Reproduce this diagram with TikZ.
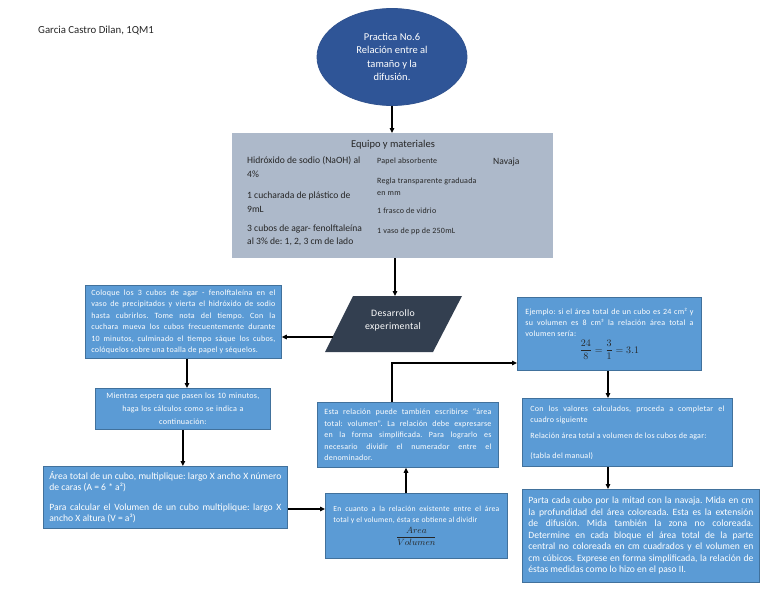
\documentclass[tikz,border=0pt]{standalone}
\usepackage{fontspec}
\setmainfont{Carlito}
\newfontfamily\widefont[LetterSpace=3]{Carlito}
\usetikzlibrary{arrows.meta,calc,shapes.geometric}
\definecolor{navyell}{HTML}{2F5597}
\definecolor{navyedge}{HTML}{2F528F}
\definecolor{eqgray}{HTML}{ADB9CA}
\definecolor{darkpar}{HTML}{333F50}
\definecolor{boxblue}{HTML}{5B9BD5}
\definecolor{boxedge}{HTML}{41719C}
\frenchspacing
\begin{document}
\begin{tikzpicture}[x=1pt,y=-1pt,
  arr/.style={-{Triangle[length=5pt,width=4.5pt]},line width=1.2pt,black},
  bluebox/.style={draw=boxedge,line width=0.8pt,fill=boxblue,text=white,anchor=north west,inner ysep=2pt,align=justify},
  wf/.style={font=\widefont\fontsize{8}{11.4}\selectfont},
  cf/.style={font=\fontsize{9.6}{11.5}\selectfont},
  eqtxt/.style={anchor=west,inner sep=0pt,align=left,text=black!85,font=\fontsize{9.6}{13.5}\selectfont},
  eqsmall/.style={anchor=west,inner sep=0pt,align=left,text=black!85,font=\widefont\fontsize{8}{12.5}\selectfont}
]
\useasboundingbox (0,0) rectangle (768,594);
\fill[white] (0,0) rectangle (768,594);

% title
\node[anchor=west,inner sep=0pt,text=black!85,font=\fontsize{10.8}{12}\selectfont] (title) at (38,30) {Garcia Castro Dilan, 1QM1};

% ellipse
\node[ellipse,fill=navyell,draw=navyedge,line width=0.8pt,minimum width=150pt,minimum height=97pt,inner sep=0pt,text=white,align=center,font=\fontsize{10.5}{13.3}\selectfont] (ell) at (392,57) {Practica No.6\\Relación entre al\\tamaño y la\\difusión.};

% equipo
\node[fill=eqgray,minimum width=321pt,minimum height=125pt,anchor=north west,inner sep=0pt] (eq) at (232,133) {};
\node[inner sep=0pt,text=black!85,font=\fontsize{10.5}{12}\selectfont] (eqt) at (393,145) {Equipo y materiales};
\node[eqtxt] (e1) at (247,167) {Hidróxido de sodio (NaOH) al\\4\%};
\node[eqtxt] (e2) at (247,202) {1 cucharada de plástico de\\9mL};
\node[eqtxt] (e3) at (247,235.5) {3 cubos de agar- fenolftaleína\\al 3\% de: 1, 2, 3 cm de lado};
\node[eqsmall] (m1) at (377,161) {Papel absorbente};
\node[eqsmall] (m2) at (377,186.5) {Regla transparente graduada\\en mm};
\node[eqsmall] (m3) at (377,211) {1 frasco de vidrio};
\node[eqsmall] (m4) at (377,231) {1 vaso de pp de 250mL};
\node[eqtxt] (nav) at (493,162) {Navaja};

% parallelogram
\coordinate (pTL) at (353,296);
\coordinate (pTR) at (462,296);
\coordinate (pBR) at (433,352);
\coordinate (pBL) at (325,352);
\fill[darkpar] (pTL) -- (pTR) -- (pBR) -- (pBL) -- cycle;
\node[text=white,align=center,inner sep=0pt,font=\widefont\fontsize{9.8}{13}\selectfont] (par) at (393,320) {Desarrollo\\experimental};

% blue boxes
\node[bluebox,wf,minimum width=196pt,minimum height=73pt,text width=184pt,inner xsep=6pt] (b1) at (85,285) {Coloque los 3 cubos de agar - fenolftaleína en el\linebreak vaso de precipitados y vierta el hidróxido de sodio\linebreak hasta cubrirlos. Tome nota del tiempo. Con la\linebreak cuchara mueva los cubos frecuentemente durante\linebreak 10 minutos, culminado el tiempo sáque los cubos,\linebreak colóquelos sobre una toalla de papel y séquelos.};

\node[bluebox,align=center,minimum width=175pt,minimum height=41pt,text width=163pt,inner xsep=6pt,font=\widefont\fontsize{8.1}{13}\selectfont] (b2) at (95,388) {Mientras espera que pasen los 10 minutos,\\haga los cálculos como se indica a\\continuación:};

\node[bluebox,font=\fontsize{9.6}{11}\selectfont,minimum width=244pt,minimum height=62pt,text width=232pt,inner xsep=6pt] (b3) at (43,466) {Área total de un cubo, multiplique: largo X ancho X número\linebreak de caras (A = 6 * a²)\\[9pt]Para calcular el Volumen de un cubo multiplique: largo X\linebreak ancho X altura (V = a³)};

\node[bluebox,minimum width=182pt,minimum height=65pt,text width=166pt,inner xsep=8pt,font=\widefont\fontsize{7.7}{11}\selectfont] (b4) at (325,493) {En cuanto a la relación existente entre el área\linebreak total y el volumen, ésta se obtiene al dividir\par\vspace{2pt}{\centering\color{black!85}\fontsize{9.5}{11}\selectfont$\displaystyle\frac{Area}{Volumen}$\par}};

\node[bluebox,wf,minimum width=181pt,minimum height=65pt,text width=167pt,inner xsep=7pt] (b5) at (317,402) {Esta relación puede también escribirse “área\linebreak total: volumen”. La relación debe expresarse\linebreak en la forma simplificada. Para lograrlo es\linebreak necesario dividir el numerador entre el\linebreak denominador.};

\node[bluebox,wf,minimum width=184pt,minimum height=73pt,text width=168pt,inner xsep=8pt] (b6) at (517,297) {Ejemplo: si el área total de un cubo es 24 cm² y\linebreak su volumen es 8 cm³ la relación área total a\linebreak volumen sería:\par\vspace{2pt}{\centering\color{black!85}\fontsize{10}{12}\selectfont$\displaystyle\frac{24}{8}=\frac{3}{1}=3.1$\par}};

\node[bluebox,wf,minimum width=210pt,minimum height=68pt,text width=194pt,inner xsep=8pt] (b7) at (522,398) {Con los valores calculados, proceda a completar el\linebreak cuadro siguiente\\[5pt]Relación área total a volumen de los cubos de agar:\\[8pt](tabla del manual)};

\node[bluebox,cf,minimum width=237pt,minimum height=93pt,text width=225pt,inner xsep=6pt] (b8) at (522,489) {Parta cada cubo por la mitad con la navaja. Mida en cm\linebreak la profundidad del área coloreada. Esta es la extensión\linebreak de difusión. Mida también la zona no coloreada.\linebreak Determine en cada bloque el área total de la parte\linebreak central no coloreada en cm cuadrados y el volumen en\linebreak cm cúbicos. Exprese en forma simplificada, la relación de\linebreak éstas medidas como lo hizo en el paso II.};

% connectors
\draw[arr] (ell.south) -- (ell.south |- eq.north);
\coordinate (parTop) at (395,296);
\draw[arr] (parTop |- eq.south) -- (parTop);
\coordinate (parL) at (333,337);
\draw[arr] (parL) -- (parL -| b1.east);
\coordinate (c187) at (187,0);
\draw[arr] (c187 |- b1.south) -- (c187 |- b2.north);
\draw[arr] (b2.south) -- (b2.south |- b3.north);
\coordinate (r509) at (0,509);
\draw[arr] (r509 -| b3.east) -- (r509 -| b4.west);
\coordinate (c406) at (406,0);
\draw[arr] (c406 |- b4.north) -- (c406 |- b5.south);
\coordinate (j1) at (392,363);
\draw[arr] (j1 |- b5.north) -- (j1) -- (j1 -| b6.west);
\coordinate (c608) at (608,0);
\draw[arr] (c608 |- b6.south) -- (c608 |- b7.north);
\draw[arr] (c608 |- b7.south) -- (c608 |- b8.north);
\end{tikzpicture}
\end{document}
